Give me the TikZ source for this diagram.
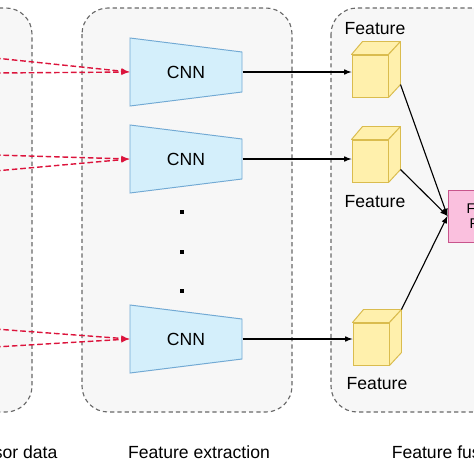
\documentclass[tikz,border=0pt]{standalone}
\usepackage{fontspec}
\setmainfont{Liberation Sans}
\usetikzlibrary{positioning,calc}
\definecolor{panelfill}{RGB}{247,247,247}
\definecolor{panelline}{RGB}{105,105,105}
\definecolor{cnnfill}{RGB}{212,239,251}
\definecolor{cnnline}{RGB}{115,170,212}
\definecolor{featfill}{RGB}{255,240,172}
\definecolor{featline}{RGB}{218,188,78}
\definecolor{fusefill}{RGB}{250,192,222}
\definecolor{fuseline}{RGB}{200,85,140}
\definecolor{sensorred}{RGB}{220,20,60}
\tikzset{
  panel/.style={draw=panelline, fill=panelfill, dash pattern=on 3pt off 2.2pt, line width=0.8pt, rounded corners=0.65cm},
  cnnshape/.style={draw=cnnline, fill=cnnfill, line width=0.7pt},
  cnnbox/.style={rectangle, minimum width=2.8cm, minimum height=1.675cm, inner sep=0pt, text centered},
  feat/.style={rectangle, minimum width=0.9cm, minimum height=1.05cm, draw=featline, fill=featfill, line width=0.7pt, inner sep=0pt},
  featface/.style={draw=featline, fill=featfill, line width=0.7pt, line join=round},
  fuse/.style={rectangle, minimum width=2cm, minimum height=1.3cm, draw=fuseline, fill=fusefill, line width=0.7pt, align=center, font=\fontsize{10}{10.6}\selectfont},
  sensor/.style={->, draw=sensorred, dash pattern=on 4pt off 2pt, line width=1pt},
  dotmark/.style={rectangle, fill=black, minimum size=0.08cm, inner sep=0pt}
}
\begin{document}
\begin{tikzpicture}[x=0.025cm, y=-0.025cm, >=latex, thick, font=\fontsize{12.5}{15}\selectfont]
	\useasboundingbox (0,0) rectangle (474,474);
	% panels
	\draw[panel] (-200,8) rectangle (32,412);
	\draw[panel] (82,8) rectangle (292,412);
	\draw[panel] (331,8) rectangle (700,412);
	\node (labSensor) at (10,452) {Sensor data};
	\node (labExtract) at (199,452) {Feature extraction};
	\node (labFusion) at (448,452) {Feature fusion};
	% feature extraction
	\foreach \n/\y in {cnnA/72, cnnB/159, cnnC/339}{
		\draw[cnnshape] (130,\y-34) -- (242,\y-20) -- (242,\y+20) -- (130,\y+34) -- cycle;
		\node[cnnbox] (\n) at (186,\y) {CNN};
	}
	\node[dotmark] (dotA) at (182,212) {};
	\node[dotmark] (dotB) at (182,252) {};
	\node[dotmark] (dotC) at (182,291) {};
	% features
	\node[feat] (featA) at (370,76) {};
	\node[feat] (featB) at (370,161) {};
	\node[feat] (featC) at (371,344) {};
	\foreach \n in {featA, featB, featC}{
		\draw[featface] (\n.north west) -- ++(11,-13) -- ($(\n.north east)+(12,-13)$) coordinate (\n-bt) -- (\n.north east) -- cycle;
		\draw[featface] (\n.north east) -- (\n-bt) -- ($(\n.south east)+(12,-13)$) coordinate (\n-bb) -- (\n.south east) -- cycle;
	}
	\node (featAname) at (375,29) {Feature};
	\node (featBname) at (375,202) {Feature};
	\node (featCname) at (377,384) {Feature};
	\node[fuse] (fusion) at (488,216) {\hspace*{4pt}Feature\\\hspace*{4pt}Fusion};
	%
	\foreach \n/\ya/\yb in {cnnA/58/73, cnnB/155/171, cnnC/329/347}{
		\coordinate (\n-inu) at (-5,\ya);
		\coordinate (\n-inl) at (-5,\yb);
		\draw[sensor] (\n-inu) -- (\n.west);
		\draw[sensor] (\n-inl) -- (\n.west);
	}
	\foreach \n/\f in {cnnA/featA, cnnB/featB, cnnC/featC}
		\draw[->] (\n.east) -- (\n.east -| \f.west);
	\draw[->] (featA-bb) -- (fusion.west);
	\draw[->] (featB-bb) -- (fusion.west);
	\draw[->] (featC-bt) -- (fusion.west);
\end{tikzpicture}
\end{document}
